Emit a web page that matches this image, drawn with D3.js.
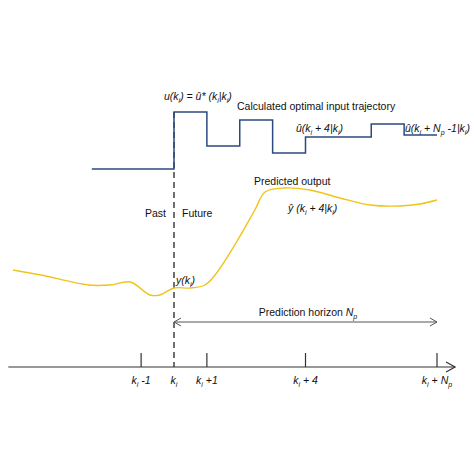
<!DOCTYPE html><html><head><script src="https://cdn.jsdelivr.net/npm/d3@7"></script>
<style>body{margin:0;background:#fff}text{font-family:"Liberation Sans",Arial,sans-serif;font-size:10.5px;fill:#111}</style></head><body>
<svg id="c" width="474" height="474"></svg>
<script>
const inputSteps=[-2.5,0,1,2,3,4,6,7,8];
const inputValues=[198,255,221,247,214,230,243,232];
const outputX=[-4.9,-4.05,-2.6,-1.95,-1.33,-0.73,-0.43,0,0.49,0.94,1.25,1.85,2.46,2.77,3.37,4.13,5.05,5.96,6.87,7.48,8];
const outputY=[97,92,82,82,85,72,72,79,79,82,92,122,157,175,179,177,169,162,161,163,167];
const tickSteps=[-1,0,1,4,8];
const tickLabels=[["k","i"," -1"],["k","i",""],["k","i"," +1"],["k","i"," + 4"],["k","i"," + N","p"]];
const svg=d3.select("#c");
const x=d3.scaleLinear().domain([0,8]).range([174,437]);
const y=d3.scaleLinear().domain([0,280]).range([367,87]);
// axis
svg.append("line").attr("x1",x(-5.04)).attr("x2",x(8.55)).attr("y1",y(0)).attr("y2",y(0)).attr("stroke","#333").attr("stroke-width",1.2);
svg.append("path").attr("d",`M${x(8.55)-9},${y(0)-5}L${x(8.55)},${y(0)}L${x(8.55)-9},${y(0)+5}`).attr("fill","none").attr("stroke","#333").attr("stroke-width",1.2);
tickSteps.forEach((t,i)=>{
 if(t!==0)svg.append("line").attr("x1",x(t)).attr("x2",x(t)).attr("y1",y(0)).attr("y2",y(14)).attr("stroke","#333").attr("stroke-width",1.2);
 const l=tickLabels[i];
 const tx=svg.append("text").attr("x",x(t)).attr("y",y(0)+17).attr("text-anchor","middle").style("font-style","italic");
 tx.append("tspan").text(l[0]);tx.append("tspan").attr("font-size","7px").attr("dy",3).text(l[1]);
 tx.append("tspan").attr("dy",-3).text(l[2]);
 if(l[3]){tx.append("tspan").attr("font-size","7px").attr("dy",3).text(l[3]);}
});
// dashed line
svg.append("line").attr("x1",x(0)).attr("x2",x(0)).attr("y1",y(255)).attr("y2",y(0)).attr("stroke","#333").attr("stroke-width",1.4).attr("stroke-dasharray","6,4");
// input step
const stepData=inputValues.map((v,i)=>({x:inputSteps[i],v})).concat([{x:inputSteps[8],v:inputValues[7]}]);
svg.append("path").datum(stepData).attr("d",d3.line().x(d=>x(d.x)).y(d=>y(d.v)).curve(d3.curveStepAfter)).attr("fill","none").attr("stroke","#2b4a80").attr("stroke-width",1.5);
// output
svg.append("path").datum(outputX.map((d,i)=>[d,outputY[i]])).attr("d",d3.line().x(d=>x(d[0])).y(d=>y(d[1])).curve(d3.curveCatmullRom)).attr("fill","none").attr("stroke","#f0c419").attr("stroke-width",1.4);
// horizon arrow
const ay=322;
svg.append("line").attr("x1",x(0)).attr("x2",x(8)).attr("y1",ay).attr("y2",ay).attr("stroke","#555");
svg.append("path").attr("d",`M${x(0)+7},${ay-4}L${x(0)},${ay}L${x(0)+7},${ay+4}M${x(8)-7},${ay-4}L${x(8)},${ay}L${x(8)-7},${ay+4}`).attr("fill","none").attr("stroke","#555");
function txt(px,py,parts,anchor){const t=svg.append("text").attr("x",px).attr("y",py).attr("text-anchor",anchor||"start");
 parts.forEach(p=>{const s=t.append("tspan").text(p[0]);if(p[1]==="sub")s.attr("font-size","7px").attr("dy",3);if(p[1]==="up")s.attr("dy",-3);if(p[2])s.style("font-style","italic");});return t;}
txt(308,316,[["Prediction horizon "],["N",0,1],["p","sub",1]],"middle");
txt(164,100,[["u(k",0,1],["i","sub",1],[") = û* (k","up",1],["i","sub",1],["|k","up",1],["i","sub",1],[")","up",1]]);
txt(237,110,[["Calculated optimal input trajectory"]]);
txt(296,132,[["û(k",0,1],["i","sub",1],[" + 4|k","up",1],["i","sub",1],[")","up",1]]);
txt(405,132,[["û(k",0,1],["i","sub",1],[" + N","up",1],["p","sub",1],[" -1|k","up",1],["i","sub",1],[")","up",1]]);
txt(254,185,[["Predicted output"]]);
txt(288,212,[["ŷ (k",0,1],["i","sub",1],[" + 4|k","up",1],["i","sub",1],[")","up",1]]);
txt(145,217,[["Past"]]);
txt(182,217,[["Future"]]);
txt(176,284,[["y(k",0,1],["i","sub",1],[")","up",1]]);
</script></body></html>
